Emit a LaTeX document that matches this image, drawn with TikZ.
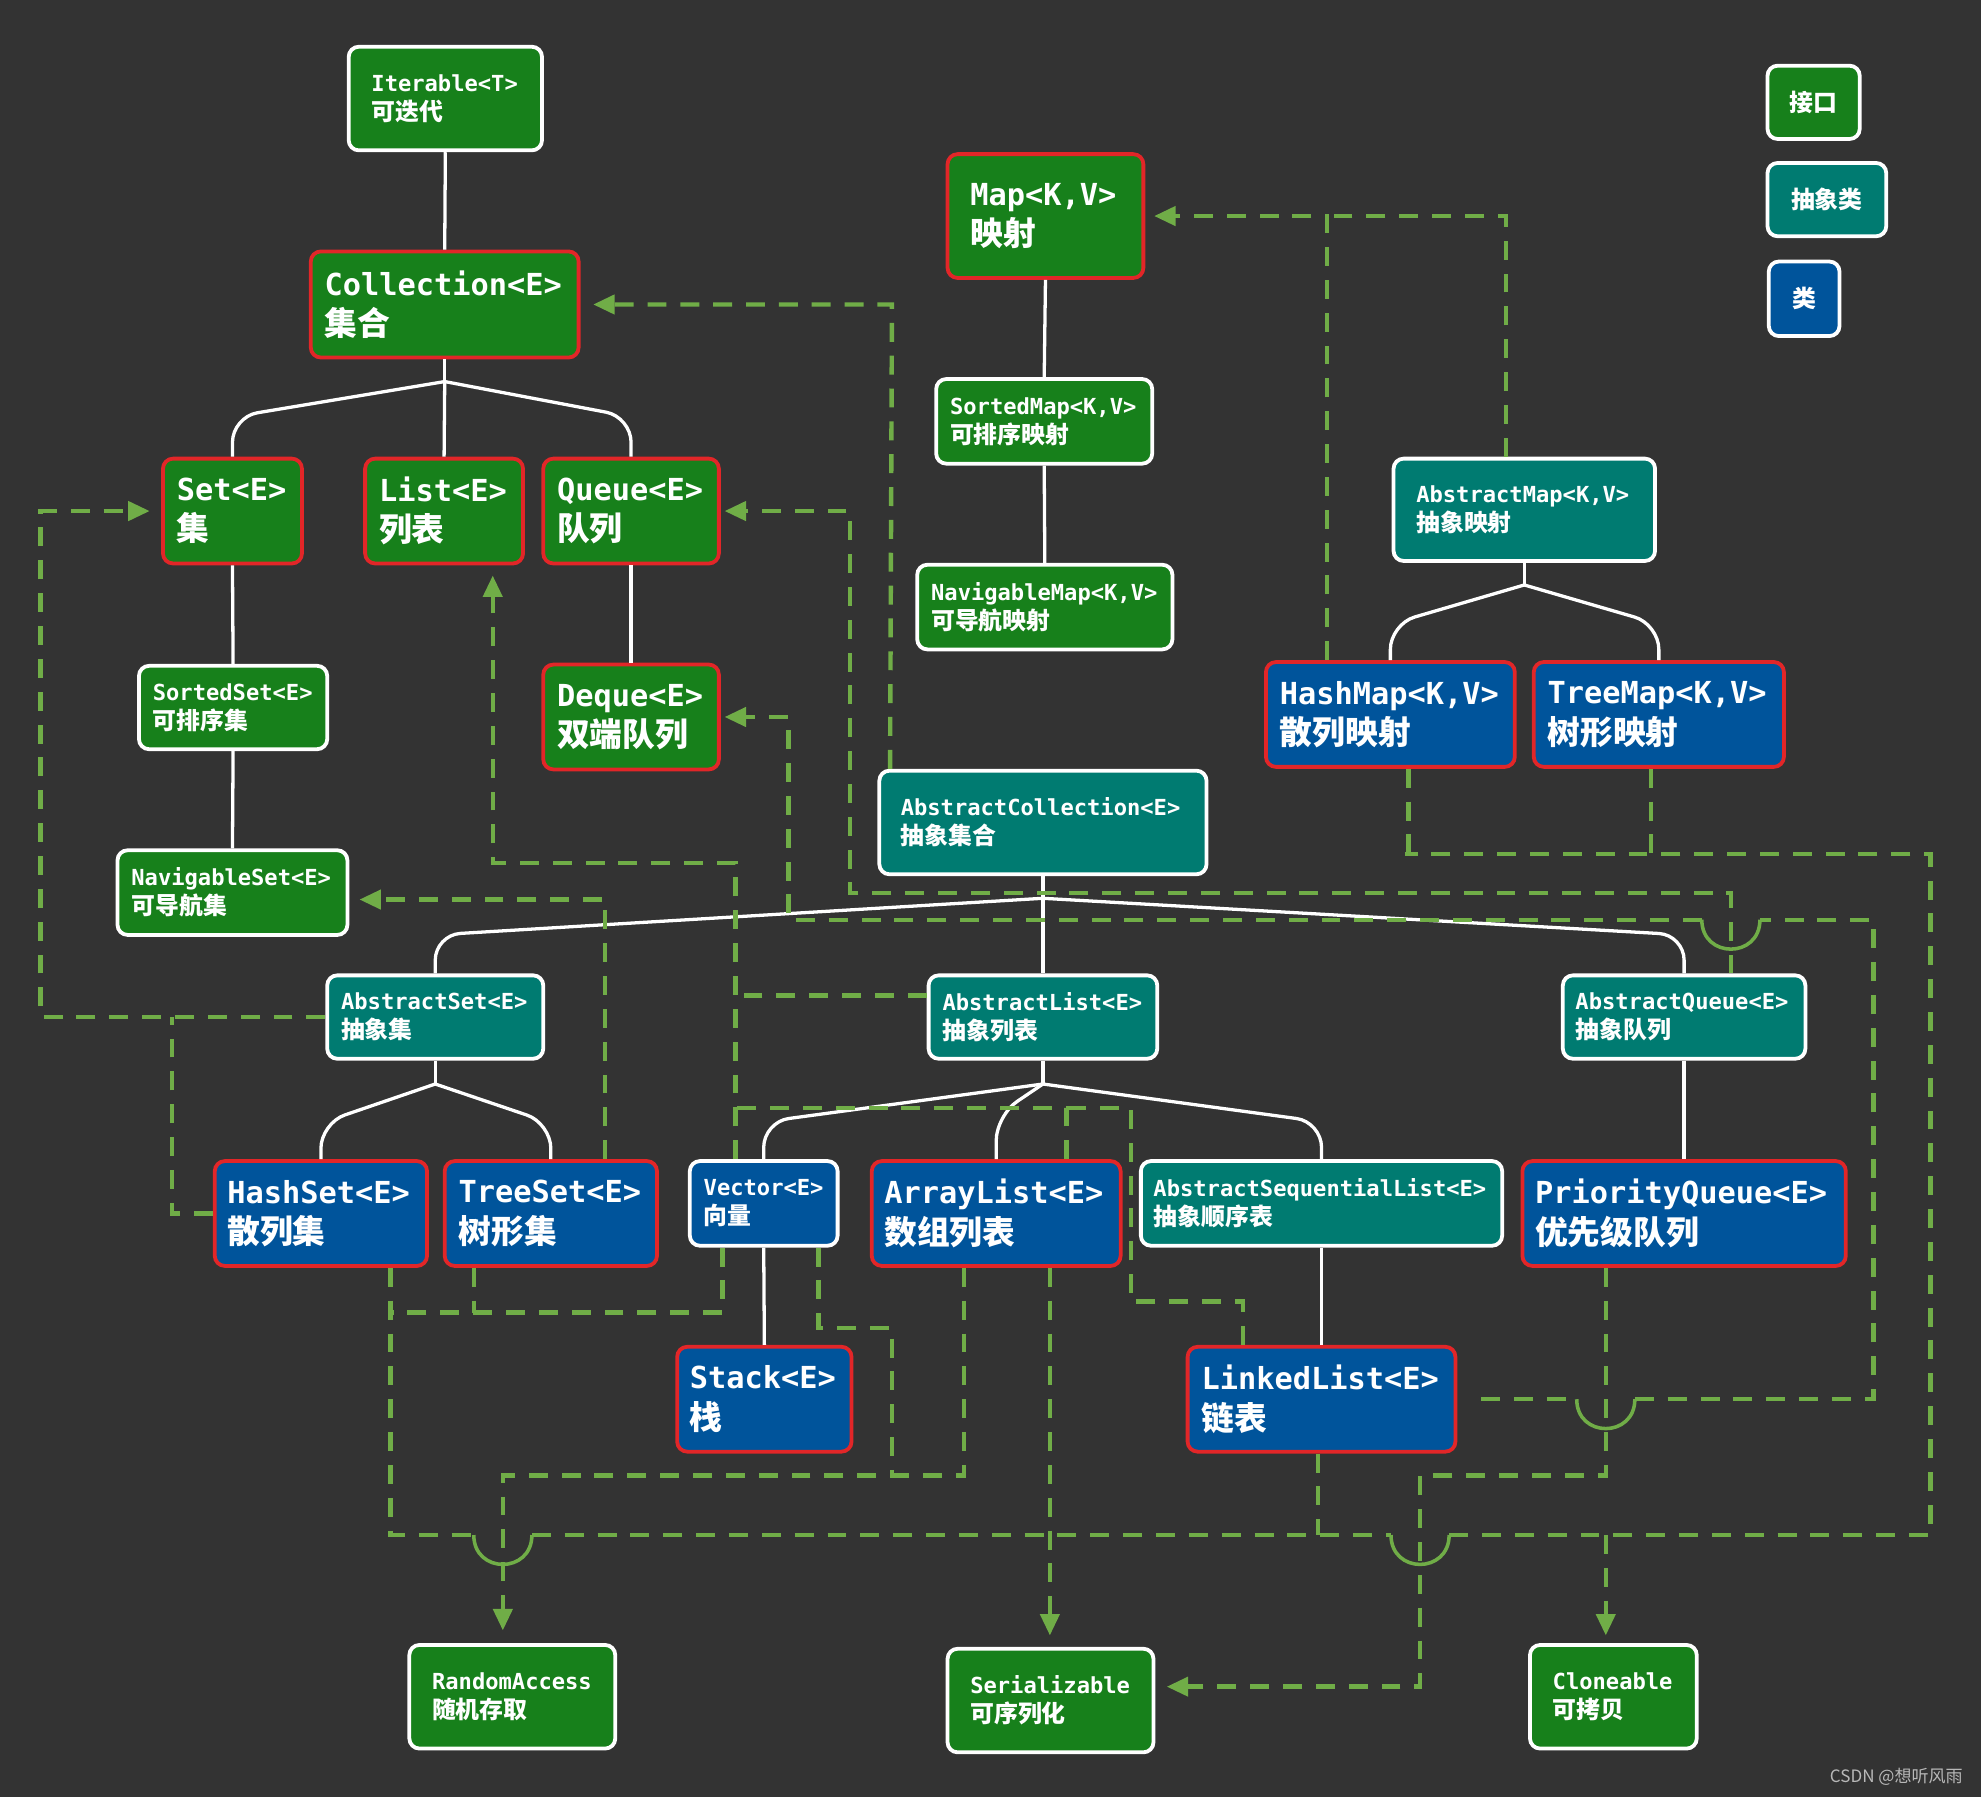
\documentclass[tikz,border=0pt]{standalone}
\usepackage{fontspec}
\newfontfamily\latinf{DejaVu Sans Mono}
\newfontfamily\cjkf{Noto Sans CJK SC}[Scale=1.08]
\usetikzlibrary{arrows.meta}
\definecolor{cBG}{RGB}{51,51,51}
\definecolor{cI}{RGB}{23,128,27}
\definecolor{cA}{RGB}{0,123,113}
\definecolor{cC}{RGB}{0,84,155}
\definecolor{cR}{RGB}{226,38,40}
\definecolor{cD}{RGB}{112,173,71}
\newcommand\mkbox[9]{%
  \pgfmathsetmacro\mytw{#5-#3-2*#7}%
  \pgfmathsetmacro\mybh{#6-#4}%
  \node[#1, inner xsep=#7pt, text width=\mytw pt, minimum height=\mybh pt] (#2) at ({(#3+#5)/2},{(#4+#6)/2}) {{\latinf #8}\\{\cjkf #9}};}
\newcommand\hop[2]{\draw[hopl] ({#1-23},#2) .. controls ({#1-23},{#2+31}) and ({#1+23},{#2+31}) .. ({#1+23},#2);}
\begin{document}
\begin{tikzpicture}[x=1pt,y=-1pt,
  box/.style={rounded corners=8pt, line width=3pt, align=left, inner ysep=0pt, text=white},
  iface/.style={box, fill=cI},
  abst/.style={box, fill=cA},
  cls/.style={box, fill=cC},
  wb/.style={draw=white},
  rb/.style={draw=cR},
  big/.style={font=\fontsize{24}{32}\selectfont\bfseries},
  sml/.style={font=\fontsize{17.5}{23}\selectfont\bfseries},
  legend/.style={box, draw=white, align=center, font=\cjkf\fontsize{17.5}{20}\selectfont\bfseries},
  tree/.style={draw=white, line width=2.6pt, rounded corners=20pt},
  dep/.style={draw=cD, line width=3.5pt, dash pattern=on 15pt off 11pt},
  arr/.style={-{Triangle[length=17pt,width=15pt]}},
  hopl/.style={draw=cD, line width=2.8pt}]
\fill[cBG] (0,0) rectangle (1568,1422);
\useasboundingbox (0,0) rectangle (1568,1422);

% ---------- interfaces ----------
\mkbox{iface,wb,sml}{Iter}{276}{37}{429}{119}{18}{Iterable<T>}{可迭代}
\mkbox{iface,rb,big}{Coll}{246}{199}{458}{283}{11}{Collection<E>}{集合}
\mkbox{iface,rb,big}{Map}{750}{122}{905}{220}{18}{Map<K,V>}{映射}
\mkbox{iface,wb,sml}{SMap}{741}{300}{912}{367}{11}{SortedMap<K,V>}{可排序映射}
\mkbox{iface,wb,sml}{NMap}{726}{447}{928}{514}{11}{NavigableMap<K,V>}{可导航映射}
\mkbox{iface,rb,big}{Set}{129}{363}{239}{446}{11}{Set<E>}{集}
\mkbox{iface,rb,big}{List}{289}{363}{414}{446}{11}{List<E>}{列表}
\mkbox{iface,rb,big}{Queue}{430}{363}{569}{446}{11}{Queue<E>}{队列}
\mkbox{iface,wb,sml}{SSet}{110}{527}{259}{593}{11}{SortedSet<E>}{可排序集}
\mkbox{iface,rb,big}{Deque}{430}{526}{569}{609}{11}{Deque<E>}{双端队列}
\mkbox{iface,wb,sml}{NSet}{93}{673}{275}{740}{11}{NavigableSet<E>}{可导航集}
\mkbox{iface,wb,sml}{RandAcc}{324}{1302}{487}{1384}{18}{RandomAccess}{随机存取}
\mkbox{iface,wb,sml}{Serial}{750}{1305}{913}{1387}{18}{Serializable}{可序列化}
\mkbox{iface,wb,sml}{Clone}{1211}{1302}{1343}{1384}{18}{Cloneable}{可拷贝}
% ---------- abstract classes ----------
\mkbox{abst,wb,sml}{AbsMap}{1103}{363}{1310}{444}{18}{AbstractMap<K,V>}{抽象映射}
\mkbox{abst,wb,sml}{AbsColl}{696}{610}{955}{692}{17}{AbstractCollection<E>}{抽象集合}
\mkbox{abst,wb,sml}{AbsSet}{259}{772}{430}{838}{11}{AbstractSet<E>}{抽象集}
\mkbox{abst,wb,sml}{AbsList}{735}{772}{916}{838}{11}{AbstractList<E>}{抽象列表}
\mkbox{abst,wb,sml}{AbsQueue}{1237}{772}{1429}{838}{10}{AbstractQueue<E>}{抽象队列}
\mkbox{abst,wb,sml}{AbsSeq}{903}{919}{1189}{986}{10}{AbstractSequentialList<E>}{抽象顺序表}
% ---------- classes ----------
\mkbox{cls,rb,big}{HashMap}{1002}{524}{1199}{607}{11}{HashMap<K,V>}{散列映射}
\mkbox{cls,rb,big}{TreeMap}{1214}{524}{1412}{607}{11}{TreeMap<K,V>}{树形映射}
\mkbox{cls,rb,big}{HashSet}{170}{919}{338}{1002}{10}{HashSet<E>}{散列集}
\mkbox{cls,rb,big}{TreeSet}{352}{919}{520}{1002}{11}{TreeSet<E>}{树形集}
\mkbox{cls,wb,sml}{Vector}{546}{919}{663}{986}{11}{Vector<E>}{向量}
\mkbox{cls,rb,big}{ArrayList}{690}{919}{887}{1002}{10}{ArrayList<E>}{数组列表}
\mkbox{cls,rb,big}{PQ}{1205}{919}{1461}{1002}{10}{PriorityQueue<E>}{优先级队列}
\mkbox{cls,rb,big}{Stack}{536}{1066}{674}{1149}{10}{Stack<E>}{栈}
\mkbox{cls,rb,big}{LinkedList}{940}{1066}{1152}{1149}{11}{LinkedList<E>}{链表}
% ---------- legend ----------
\node[legend, fill=cI, minimum width=73pt, minimum height=58pt] (lgI) at (1435.5,81) {接口};
\node[legend, fill=cA, minimum width=94pt, minimum height=58pt] (lgA) at (1446,158) {抽象类};
\node[legend, fill=cC, minimum width=56pt, minimum height=59pt] (lgC) at (1428,236.5) {类};
\node[text=white!72!black, font=\cjkf\fontsize{12.5}{15}\selectfont] (wm) at (1501,1406) {CSDN @想听风雨};

% ---------- tree lines ----------
\draw[tree] (Iter.south) -- (Coll.north);
\coordinate (jC) at (352,302);
\draw[tree] (Coll.south) -- (jC);
\draw[tree] (jC) -- (184,330) -- (Set.north);
\draw[tree] (jC) -- (List.north);
\draw[tree] (jC) -- (499.5,330) -- (Queue.north);
\draw[tree] (Set.south) -- (SSet.north);
\draw[tree] (SSet.south) -- (NSet.north);
\draw[tree] (Queue.south) -- (Deque.north);
\draw[tree] (Map.south) -- (SMap.north);
\draw[tree] (SMap.south) -- (NMap.north);
\coordinate (jM) at (1206.5,463);
\draw[tree] (AbsMap.south) -- (jM);
\draw[tree] (jM) -- (1100.5,494) -- (HashMap.north);
\draw[tree] (jM) -- (1313,494) -- (TreeMap.north);
\coordinate (jAC) at (825.5,711);
\draw[tree] (AbsColl.south) -- (jAC);
\draw[tree] (jAC) -- (344.5,740) -- (AbsSet.north);
\draw[tree] (jAC) -- (AbsList.north);
\draw[tree] (jAC) -- (1333,740) -- (AbsQueue.north);
\coordinate (jAS) at (344.5,858);
\draw[tree] (AbsSet.south) -- (jAS);
\draw[tree] (jAS) -- (254,889) -- (HashSet.north);
\draw[tree] (jAS) -- (436,889) -- (TreeSet.north);
\coordinate (jAL) at (825.5,858);
\draw[tree] (AbsList.south) -- (jAL);
\draw[tree] (jAL) -- (604.5,888) -- (Vector.north);
\draw[tree] (jAL) -- (788.5,883) -- (ArrayList.north);
\draw[tree] (jAL) -- (1046,888) -- (AbsSeq.north);
\draw[tree] (Vector.south) -- (Stack.north);
\draw[tree] (AbsSeq.south) -- (LinkedList.north);
\draw[tree] (AbsQueue.south) -- (PQ.north);

% ---------- dashed dependency lines ----------
% Collection
\draw[dep,arr,shorten >=10pt] ([xshift=10pt]AbsColl.north west) -- (706,241) -- (Coll.east);
% Set
\draw[dep,arr,shorten >=9pt] (AbsSet.west) -- (32,805) -- (32,404.5) -- (Set.west);
\draw[dep] (HashSet.west) -| (136,805);
% List
\draw[dep,arr,shorten >=8pt] ([xshift=-22.5pt]Vector.north) -- (582,683) -- (390,683) -- ([xshift=38.5pt]List.south);
\draw[dep] ([yshift=17pt]AbsList.west) -- (582,788);
\draw[dep] ([xshift=55.5pt]ArrayList.north) -- (844,877) -- (582,877);
\draw[dep] ([xshift=-62pt]LinkedList.north) -- (984,1030) -- (895,1030) -- (895,877) -- (844,877);
% Queue
\draw[dep,arr,shorten >=3pt] ([xshift=37pt]AbsQueue.north) -- (1370,707) -- (673,707) -- (673,404.5) -- (Queue.east);
% Deque
\draw[dep,shorten <=19pt] (LinkedList.east) -- (1248,1107.5);
\hop{1271}{1107.5}
\draw[dep] (1294,1107.5) -- (1483,1107.5) -- (1483,728) -- (1393,728);
\hop{1370}{728}
\draw[dep,arr,shorten >=3pt] (1347,728) -- (624,728) -- (624,567.5) -- (Deque.east);
% NavigableSet
\draw[dep,arr,shorten >=8pt] ([xshift=43pt]TreeSet.north) -- (479,712) -- ([yshift=-5.5pt]NSet.east);
% Map
\draw[dep,arr,shorten >=7pt] ([xshift=-50pt]HashMap.north) -- (1050.5,171) -- (Map.east);
\draw[dep] ([xshift=-14.5pt]AbsMap.north) -- (1192,171) -- (1050.5,171);
% RandomAccess
\draw[dep] ([xshift=43.5pt]Vector.south) -- (648,1051) -- (706,1051) -- (706,1168);
\draw[dep,arr,shorten >=10pt] ([xshift=-25.5pt]ArrayList.south) -- (763,1168) -- (398,1168) -- ([xshift=-7.5pt]RandAcc.north);
% Serializable
\draw[dep,arr,shorten >=9pt] ([xshift=42.5pt]ArrayList.south) -- ([xshift=-0.5pt]Serial.north);
\draw[dep,arr,shorten >=9pt] ([xshift=-62pt]PQ.south) -- (1271,1168) -- (1124,1168) -- (1124,1335) -- ([yshift=11pt]Serial.east);
% bus to Serializable / Cloneable
\draw[dep] ([xshift=55pt]HashSet.south) -- (309,1215) -- (375,1215);
\hop{398}{1215}
\draw[dep] (421,1215) -- (1101,1215);
\hop{1124}{1215}
\draw[dep] (1147,1215) -- (1528,1215) -- (1528,676) -- (1112,676);
\draw[dep] ([xshift=-61pt]TreeSet.south) -- (375,1039);
\draw[dep] ([xshift=-32.5pt]Vector.south) -- (572,1039) -- (309,1039);
\draw[dep] ([xshift=14.5pt]HashMap.south) -- (1115,676);
\draw[dep] ([xshift=-6pt]TreeMap.south) -- (1307,676);
\draw[dep] ([xshift=-3pt]LinkedList.south) -- (1043,1215);
\draw[dep,arr,shorten >=6pt] (1271,1215) -- ([xshift=-6pt]Clone.north);
\end{tikzpicture}
\end{document}
